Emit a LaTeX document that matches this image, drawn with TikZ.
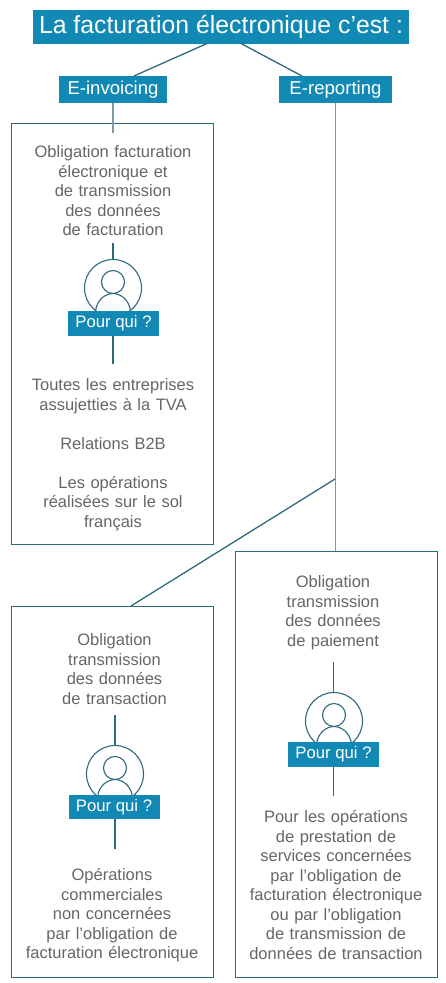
\documentclass[tikz,border=0pt]{standalone}
\usepackage{fontspec}
\setmainfont{Liberation Sans}
\definecolor{teal1}{HTML}{1289B4}
\definecolor{line1}{HTML}{2F6A7C}
\definecolor{line2}{HTML}{7F98A6}
\definecolor{txt}{HTML}{666666}
\tikzset{
  x=1pt,y=-1pt,
  band/.style={fill=teal1,text=white,inner sep=0pt,anchor=center,align=center},
  frame/.style={draw=line1,line width=1.4pt,fill=none,minimum width=#1,anchor=north west,inner sep=0pt},
  body/.style={text=txt,align=center,anchor=north,inner sep=0pt,font=\fontsize{16.5}{19.5}\selectfont,text width=200pt},
  conn/.style={draw=line1,line width=1.3pt},
  connb/.style={draw=line2,line width=1.6pt},
  who/.style={band,minimum width=91pt,minimum height=24.5pt,font=\fontsize{16.7}{18}\selectfont},
}
\newcommand{\persondraw}[2]{%
  \begin{scope}[shift={(#1,#2)}]
    \draw[line1,line width=1.1pt] (0,0) circle[radius=28.5];
    \draw[line1,line width=1.1pt] (0,-6) circle[radius=11.5];
    \draw[line1,line width=1.1pt] (-17.5,23) .. controls (-16,11) and (-7,5.5) .. (0,5.5) .. controls (7,5.5) and (16,11) .. (17.5,23);
  \end{scope}}
\begin{document}
\begin{tikzpicture}
\useasboundingbox (0,0) rectangle (445,983);
\fill[white] (0,0) rectangle (445,983);
% frames
\node[frame=202pt,minimum height=421pt] (b1) at (11,123) {};
\node[frame=202pt,minimum height=371pt] (b2) at (11,606) {};
\node[frame=202pt,minimum height=426pt] (b3) at (235,551) {};
% headers
\node[band,minimum width=376pt,minimum height=34pt,font=\fontsize{24.8}{28}\selectfont] (title) at (221,26.5) {La facturation électronique c’est :};
\node[band,minimum width=108pt,minimum height=27pt,font=\fontsize{18.6}{20}\selectfont] (inv) at (113,89.5) {E-invoicing};
\node[band,minimum width=113pt,minimum height=27pt,font=\fontsize{18.6}{20}\selectfont] (rep) at (335.5,89.5) {E-reporting};
% named ends
\coordinate (t1) at (207,43.5);
\coordinate (t2) at (241,43.5);
\coordinate (i1) at (134,76);
\coordinate (r1) at (302,76);
\coordinate (invend) at (113,133);
\coordinate (repj) at (335,479);
\coordinate (repend) at (335.5,551);
\coordinate (b2top) at (131,606);
\draw[conn] (t1) -- (i1);
\draw[conn] (t2) -- (r1);
\draw[connb] (inv.south) -- (invend);
\draw[connb] (rep.south) -- (repend);
\draw[conn] (repj) -- (b2top);
% box 1
\node[body] (t11) at (113,145.5) {Obligation facturation\\électronique et\\de transmission\\des données\\de facturation};
\persondraw{113}{288}
\node[who] (w1) at (113.5,323.5) {Pour qui ?};
\coordinate (a1) at (113,243);
\coordinate (a2) at (113,259.5);
\coordinate (a3) at (113,364);
\draw[conn] (a1) -- (a2);
\draw[conn] (w1.south -| a3) -- (a3);
\node[body] (t12) at (113,378.5) {Toutes les entreprises\\assujetties à la TVA\\[19.5pt]Relations B2B\\[19.5pt]Les opérations\\réalisées sur le sol\\français};
% box 2
\node[body] (t21) at (114.5,633.5) {Obligation\\transmission\\des données\\de transaction};
\persondraw{115}{774}
\node[who] (w2) at (114,807) {Pour qui ?};
\coordinate (c1) at (115,715);
\coordinate (c2) at (115,745.5);
\coordinate (c3) at (115,849);
\draw[conn] (c1) -- (c2);
\draw[conn] (w2.south -| c3) -- (c3);
\node[body] (t22) at (112,868.5) {Opérations\\commerciales\\non concernées\\par l’obligation de\\facturation électronique};
% box 3
\node[body] (t31) at (333,575.5) {Obligation\\transmission\\des données\\de paiement};
\persondraw{334}{721}
\node[who] (w3) at (333.5,754.5) {Pour qui ?};
\coordinate (d1) at (333.5,662);
\coordinate (d2) at (333.5,692.5);
\coordinate (d3) at (333.5,796);
\draw[conn] (d1) -- (d2);
\draw[conn] (w3.south -| d3) -- (d3);
\node[body] (t32) at (336,810.5) {Pour les opérations\\de prestation de\\services concernées\\par l’obligation de\\facturation électronique\\ou par l’obligation\\de transmission de\\données de transaction};
\end{tikzpicture}
\end{document}
